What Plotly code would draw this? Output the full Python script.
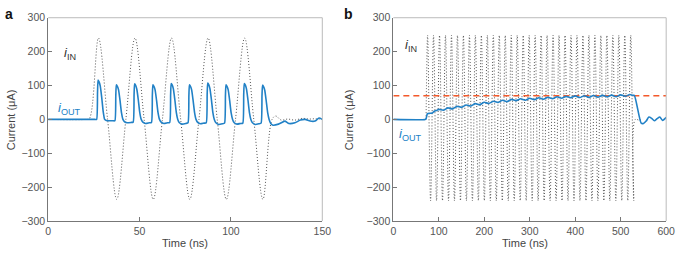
import plotly.graph_objects as go

# ---------------- Panel a data ----------------
a_in_t = [0, 20.5, 22.5, 27.5, 32.5, 37.5, 42.5, 47.5, 52.5, 57.5, 62.5, 67.5, 72.5, 77.5, 82.5,
          87.5, 92.5, 97.5, 102.5, 107.5, 112.5, 117.5, 122.5, 124.5, 127.5, 131, 135, 139, 143, 146.5, 150]
a_in_v = [0, 0, 2, 240, 0, -236, 0, 240, 0, -236, 0, 240, 0, -236, 0,
          240, 0, -236, 0, 240, 0, -236, 0, 10, -2, 1, -2, 3, 1, 2, 0]

a_out_t = [0, 25.5,
           26.5, 27.0, 27.3, 27.9, 28.5, 29.3, 30.1, 30.9, 31.8, 33.3, 35.3,
           36.5, 37.0, 37.3, 37.9, 38.5, 39.3, 40.1, 40.9, 41.8, 43.3, 45.3,
           46.5, 47.0, 47.3, 47.9, 48.5, 49.3, 50.1, 50.9, 51.8, 53.3, 55.3,
           56.5, 57.0, 57.3, 57.9, 58.5, 59.3, 60.1, 60.9, 61.8, 63.3, 65.3,
           66.5, 67.0, 67.3, 67.9, 68.5, 69.3, 70.1, 70.9, 71.8, 73.3, 75.3,
           76.5, 77.0, 77.3, 77.9, 78.5, 79.3, 80.1, 80.9, 81.8, 83.3, 85.3,
           86.5, 87.0, 87.3, 87.9, 88.5, 89.3, 90.1, 90.9, 91.8, 93.3, 95.3,
           96.5, 97.0, 97.3, 97.9, 98.5, 99.3, 100.1, 100.9, 101.8, 103.3, 105.3,
           106.5, 107.0, 107.3, 107.9, 108.5, 109.3, 110.1, 110.9, 111.8, 113.3, 115.3,
           116.5, 117.0, 117.3, 117.9, 118.5, 119.3, 120.1, 120.9, 121.8, 123.0,
           126.0, 129.5, 131.7, 135.0, 138.0, 140.6, 143.3, 146.0, 148.2, 150.0]
a_out_v = [0, 0,
           0, 80, 116, 110, 98, 64, 23, 0, -3, -4, -4,
           -4, 71, 102, 97, 87, 56, 20, 0, -7, -10, -9,
           -8, 74, 105, 100, 89, 58, 21, 0, -8, -12, -10,
           -9, 71, 102, 97, 87, 56, 20, 0, -8, -12, -10,
           -9, 74, 106, 101, 90, 58, 21, 0, -10, -14, -12,
           -10, 71, 102, 97, 87, 56, 20, 0, -9, -13, -11,
           -10, 75, 107, 102, 91, 59, 21, 0, -10, -15, -13,
           -11, 71, 102, 97, 87, 56, 20, 0, -10, -14, -12,
           -11, 74, 106, 101, 90, 58, 21, 0, -10, -15, -13,
           -11, 71, 101, 96, 86, 55, 20, 0, -12, -17,
           -14, -5, -12, -10, -2, 0, -5, -5, 4, 0]

# ---------------- Panel b data ----------------
b_in_t = [72,
          75.3, 81.9, 88.4, 95.0, 101.6, 108.1, 114.7, 121.3, 127.9, 134.4,
          141.0, 147.6, 154.1, 160.7, 167.3, 173.9, 180.4, 187.0, 193.6, 200.1,
          206.7, 213.3, 219.9, 226.4, 233.0, 239.6, 246.1, 252.7, 259.3, 265.9,
          272.4, 279.0, 285.6, 292.1, 298.7, 305.3, 311.9, 318.4, 325.0, 331.6,
          338.1, 344.7, 351.3, 357.9, 364.4, 371.0, 377.6, 384.1, 390.7, 397.3,
          403.9, 410.4, 417.0, 423.6, 430.1, 436.7, 443.3, 449.9, 456.4, 463.0,
          469.6, 476.1, 482.7, 489.3, 495.9, 502.4, 509.0, 515.6, 522.1, 528.7,
          532, 540, 548]
b_in_v = [0,
          248, -240, 248, -240, 248, -240, 248, -240, 248, -240,
          248, -240, 248, -240, 248, -240, 248, -240, 248, -240,
          248, -240, 248, -240, 248, -240, 248, -240, 248, -240,
          248, -240, 248, -240, 248, -240, 248, -240, 248, -240,
          248, -240, 248, -240, 248, -240, 248, -240, 248, -240,
          248, -240, 248, -240, 248, -240, 248, -240, 248, -240,
          248, -240, 248, -240, 248, -240, 248, -240, 248, -240,
          0, -2, 0]

b_out_t = [0, 70, 72, 75, 80, 86, 90, 95,
           100, 110, 120, 130, 140, 150, 160, 170, 180, 190, 200, 210, 220, 230, 240, 250,
           260, 270, 280, 290, 300, 310, 320, 330, 340, 350, 360, 370, 380, 390, 400, 410,
           420, 430, 440, 450, 460, 470, 480, 490, 500, 510, 520,
           526, 530, 545, 550, 556, 562, 568, 574, 580, 586, 592, 600]
b_out_v = [0, 0, 2, 17, 18, 19, 24, 26,
           29.5, 27, 34, 31, 38.5, 35.5, 42.5, 39.5, 46.5, 43.5, 50.5, 47, 53.5, 50, 56.5, 52.5,
           59, 55.5, 61, 56.5, 62.5, 58, 64, 59.5, 65.5, 61, 67, 62.5, 68, 64, 69.5, 64.5,
           70, 65, 70.5, 65.5, 71, 66.5, 71.5, 67, 72.5, 68, 73.5,
           71, 71, -11, -12, -5, 7, 3, -4, 2, 7, -3, 6]

threshold = 70
threshold_t = [0, 600]

y_ticks = [-300, -200, -100, 0, 100, 200, 300]
a_x_ticks = [0, 50, 100, 150]
b_x_ticks = [0, 100, 200, 300, 400, 500, 600]

W, H = 685, 257
FONT = "Liberation Sans, Arial, sans-serif"
BLUE = "#2181c6"
GRAY = "#555555"
RED = "#f4592a"

def px(x):
    return x / W

def py(y):
    return 1 - y / H

fig = go.Figure()

# panel a
fig.add_trace(go.Scatter(x=a_in_t, y=a_in_v, mode="lines", xaxis="x", yaxis="y",
                         line=dict(color=GRAY, width=1, dash="1px,2px", shape="spline", smoothing=1)))
fig.add_trace(go.Scatter(x=a_out_t, y=a_out_v, mode="lines", xaxis="x", yaxis="y",
                         line=dict(color=BLUE, width=1.6, shape="spline", smoothing=0.5)))
# panel b
fig.add_trace(go.Scatter(x=b_in_t, y=b_in_v, mode="lines", xaxis="x2", yaxis="y2",
                         line=dict(color=GRAY, width=1, dash="1px,2px", shape="spline", smoothing=1)))
fig.add_trace(go.Scatter(x=threshold_t, y=[threshold, threshold], mode="lines", xaxis="x2", yaxis="y2",
                         line=dict(color=RED, width=1.5, dash="6px,4px")))
fig.add_trace(go.Scatter(x=b_out_t, y=b_out_v, mode="lines", xaxis="x2", yaxis="y2",
                         line=dict(color=BLUE, width=1.6, shape="spline", smoothing=0.6)))

ydom = [py(225.6), py(12.3)]
axis_common = dict(showgrid=False, zeroline=False, showline=True, linecolor="#777", linewidth=1,
                   ticks="inside", ticklen=4, tickcolor="#777", tickwidth=1,
                   tickfont=dict(family=FONT, size=10.5, color="#555"))

fig.update_layout(
    width=W, height=H, autosize=False,
    margin=dict(l=0, r=0, t=0, b=0),
    paper_bgcolor="white", plot_bgcolor="white",
    showlegend=False,
    xaxis=dict(domain=[px(46), px(325)], range=[0, 150], tickvals=a_x_ticks, anchor="y", **axis_common),
    yaxis=dict(domain=ydom, range=[-300, 300], tickvals=y_ticks, anchor="x", **axis_common),
    xaxis2=dict(domain=[px(397.3), px(675)], range=[0, 600], tickvals=b_x_ticks, anchor="y2", **axis_common),
    yaxis2=dict(domain=ydom, range=[-300, 300], tickvals=y_ticks, anchor="x2", **axis_common),
)

# lighter top/right frame lines
for xr, yr in [("x domain", "y domain"), ("x2 domain", "y2 domain")]:
    fig.add_shape(type="line", xref=xr, yref=yr, x0=0, x1=1, y0=1, y1=1, line=dict(color="#bbb", width=1))
    fig.add_shape(type="line", xref=xr, yref=yr, x0=1, x1=1, y0=0, y1=1, line=dict(color="#bbb", width=1))

ann = []
def label(text, x, y, size=11, color="#444", angle=0, xanchor="center"):
    ann.append(dict(text=text, x=px(x), y=py(y), xref="paper", yref="paper", showarrow=False,
                    xanchor=xanchor, yanchor="middle", textangle=angle,
                    font=dict(family=FONT, size=size, color=color)))

label("<b>a</b>", 6, 8, size=14, color="#111")
label("<b>b</b>", 352, 8, size=14, color="#111")
label("Time (ns)", 185.5, 249, size=11)
label("Time (ns)", 531.5, 249, size=11)
label("Current (μA)", 9, 119, size=11, angle=-90)
label("Current (μA)", 353, 119, size=11, angle=-90)
label("<i>i</i><sub>IN</sub>", 68, 50, size=13, color="#333")
label("<i>i</i><sub>OUT</sub>", 68, 107, size=13, color=BLUE)
label("<i>i</i><sub>IN</sub>", 415, 41, size=13, color="#333")
label("<i>i</i><sub>OUT</sub>", 415, 135, size=13, color=BLUE)
fig.update_layout(annotations=ann)

fig.write_html("out.html", config={"displayModeBar": False},
               post_script="document.body.style.margin='0px';document.body.style.overflow='hidden';")
